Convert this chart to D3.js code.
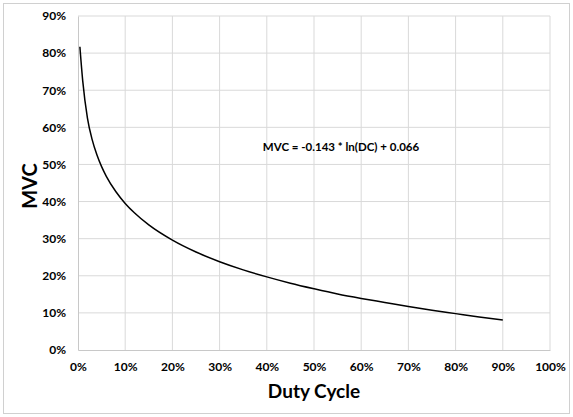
<!DOCTYPE html>
<html>
<head>
<meta charset="utf-8">
<script src="https://cdn.jsdelivr.net/npm/d3@7"></script>
<style>
  body { margin: 0; background: #fff; }
  text { font-family: Lato, "Open Sans", sans-serif; font-weight: bold; fill: #000; }
</style>
</head>
<body>
<div id="chart"></div>
<script>
// duty cycle (%) and MVC (%)
var dutyCycle = [0.4, 1, 2, 3, 4, 5, 6, 8, 10, 12, 15, 20, 25, 30, 35, 40, 45, 50, 55, 60, 65, 70, 75, 80, 85, 90];
var mvc = [81.7, 72.5, 62.5, 56.7, 52.6, 49.4, 46.8, 42.7, 39.5, 36.9, 33.7, 29.6, 26.4, 23.8, 21.6, 19.7, 18.0, 16.5, 15.1, 13.9, 12.8, 11.7, 10.7, 9.8, 8.9, 8.1];
var xTicks = [0, 10, 20, 30, 40, 50, 60, 70, 80, 90, 100];
var yTicks = [0, 10, 20, 30, 40, 50, 60, 70, 80, 90];
var equationText = "MVC = -0.143 * ln(DC) + 0.066";

var width = 573, height = 417;
var margin = {top: 16, right: 23, bottom: 67, left: 78};

var svg = d3.select("#chart").append("svg")
    .attr("width", width)
    .attr("height", height);

// outer chart border
svg.append("rect")
    .attr("x", 3.5).attr("y", 3.5)
    .attr("width", width - 7).attr("height", height - 7)
    .style("fill", "none")
    .style("stroke", "#d0d0d0");

var xScale = d3.scaleLinear()
    .domain([0, 100])
    .range([margin.left, width - margin.right]);

var yScale = d3.scaleLinear()
    .domain([0, 90])
    .range([height - margin.bottom, margin.top]);

// gridlines
svg.append("g")
  .selectAll("line")
  .data(xTicks.slice(1))
  .enter().append("line")
    .attr("x1", function(d) { return xScale(d); })
    .attr("x2", function(d) { return xScale(d); })
    .attr("y1", yScale(0))
    .attr("y2", yScale(90))
    .style("stroke", "#d9d9d9");

svg.append("g")
  .selectAll("line")
  .data(yTicks.slice(1))
  .enter().append("line")
    .attr("x1", xScale(0))
    .attr("x2", xScale(100))
    .attr("y1", function(d) { return yScale(d); })
    .attr("y2", function(d) { return yScale(d); })
    .style("stroke", "#d9d9d9");

var xAxis = d3.axisBottom(xScale)
    .tickValues(xTicks)
    .tickSize(0)
    .tickPadding(12)
    .tickFormat(function(d) { return d + "%"; });

var yAxis = d3.axisLeft(yScale)
    .tickValues(yTicks)
    .tickSize(0)
    .tickPadding(12)
    .tickFormat(function(d) { return d + "%"; });

var gx = svg.append("g")
    .attr("transform", "translate(0," + yScale(0) + ")")
    .call(xAxis);

var gy = svg.append("g")
    .attr("transform", "translate(" + xScale(0) + ",0)")
    .call(yAxis);

gx.select(".domain").style("stroke", "#c8c8c8");
gy.select(".domain").style("stroke", "#c8c8c8");
svg.selectAll(".tick text")
    .style("font-size", "12px")
    .style("font-family", "Lato, sans-serif")
    .style("font-weight", "bold")
    .style("fill", "#000");

// curve
var points = dutyCycle.map(function(d, i) { return [d, mvc[i]]; });
var line = d3.line()
    .x(function(d) { return xScale(d[0]); })
    .y(function(d) { return yScale(d[1]); })
    .curve(d3.curveMonotoneX);

svg.append("path")
    .datum(points)
    .attr("d", line)
    .style("fill", "none")
    .style("stroke", "#000")
    .style("stroke-width", 1.5);

// equation label
svg.append("text")
    .attr("x", 341)
    .attr("y", 151)
    .attr("text-anchor", "middle")
    .style("font-size", "11.5px")
    .text(equationText);

// axis titles
svg.append("text")
    .attr("x", 314)
    .attr("y", 398)
    .attr("text-anchor", "middle")
    .style("font-size", "19px")
    .text("Duty Cycle");

svg.append("text")
    .attr("transform", "translate(37,186) rotate(-90)")
    .attr("text-anchor", "middle")
    .style("font-size", "20px")
    .text("MVC");
</script>
</body>
</html>
